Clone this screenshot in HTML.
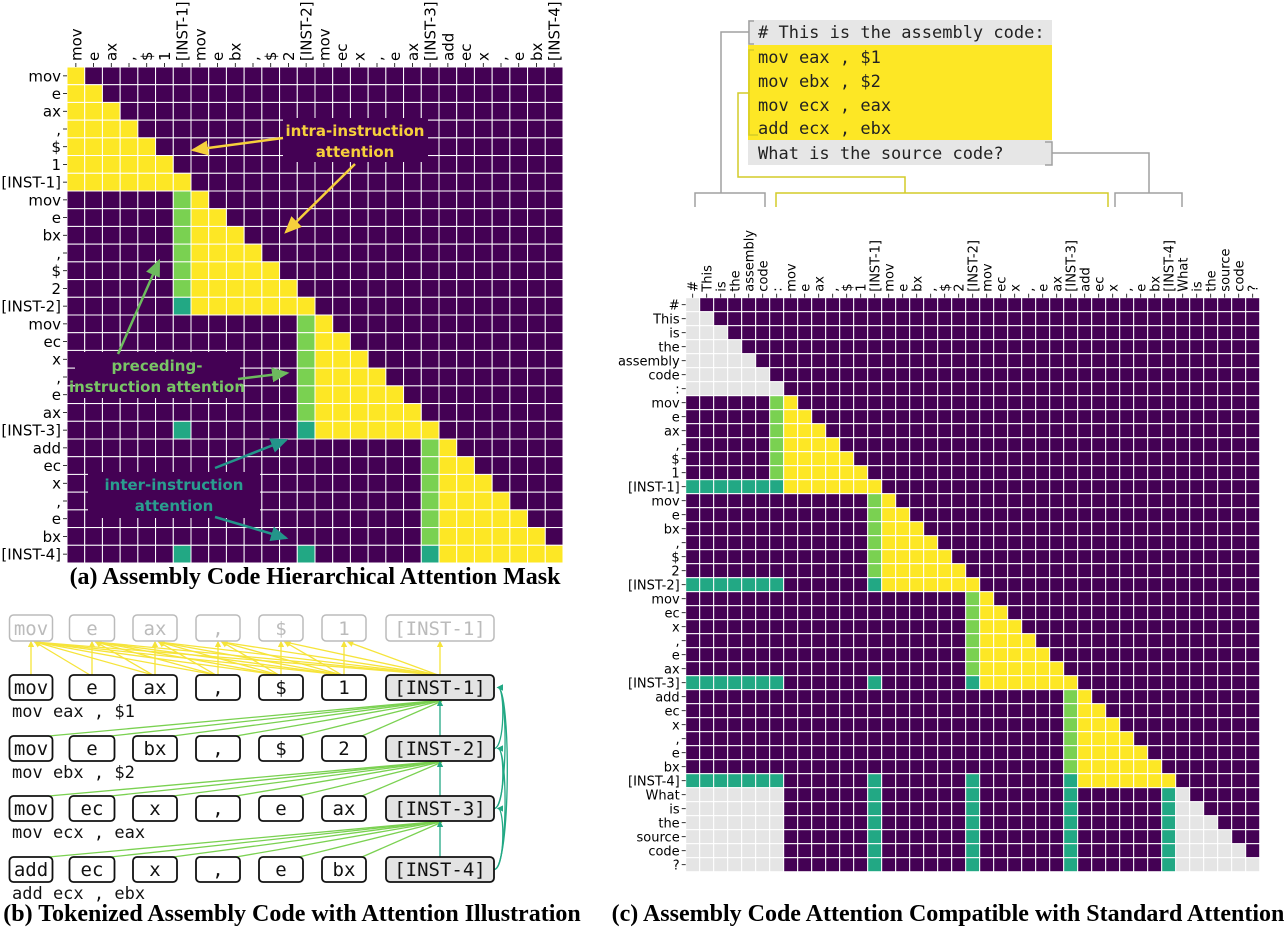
<!DOCTYPE html>
<html><head><meta charset="utf-8"><style>
html,body{margin:0;padding:0;background:#fff;}
svg{display:block;}
</style></head><body>
<svg id="fig" width="1286" height="936" viewBox="0 0 1286 936" xmlns="http://www.w3.org/2000/svg">
<defs>
<marker id="ay" markerWidth="8" markerHeight="8" refX="6" refY="3" orient="auto"><path d="M0,0 L7,3 L0,6 z" fill="#f6cf3c"/></marker>
<marker id="ag" markerWidth="8" markerHeight="8" refX="6" refY="3" orient="auto"><path d="M0,0 L7,3 L0,6 z" fill="#6dbb5e"/></marker>
<marker id="at" markerWidth="8" markerHeight="8" refX="6" refY="3" orient="auto"><path d="M0,0 L7,3 L0,6 z" fill="#23958a"/></marker>
<marker id="sy" markerWidth="6" markerHeight="6" refX="4" refY="2.5" orient="auto"><path d="M0,0 L5,2.5 L0,5 z" fill="#f6e43a"/></marker>
<marker id="st" markerWidth="6" markerHeight="6" refX="4" refY="2.5" orient="auto"><path d="M0,0 L5,2.5 L0,5 z" fill="#22a884"/></marker>
</defs>
<g id="pa"></g>
<g id="pc"></g>
<g id="pb"></g>

<g>
<rect x="283" y="118" width="145" height="44" fill="#440154"/>
<text x="355" y="136" text-anchor="middle" font-family="DejaVu Sans, sans-serif" font-weight="bold" font-size="15" fill="#f6cf3c">intra-instruction</text>
<text x="355" y="157" text-anchor="middle" font-family="DejaVu Sans, sans-serif" font-weight="bold" font-size="15" fill="#f6cf3c">attention</text>
<line x1="283" y1="138" x2="193" y2="150" stroke="#f6cf3c" stroke-width="2.5" marker-end="url(#ay)"/>
<line x1="355" y1="164" x2="286" y2="232" stroke="#f6cf3c" stroke-width="2.5" marker-end="url(#ay)"/>
</g>
<g>
<rect x="75" y="352" width="165" height="46" fill="#440154"/>
<text x="157" y="371" text-anchor="middle" font-family="DejaVu Sans, sans-serif" font-weight="bold" font-size="15" fill="#79c566">preceding-</text>
<text x="157" y="392" text-anchor="middle" font-family="DejaVu Sans, sans-serif" font-weight="bold" font-size="15" fill="#79c566">instruction attention</text>
<line x1="118" y1="354" x2="159" y2="261" stroke="#6dbb5e" stroke-width="2.5" marker-end="url(#ag)"/>
<line x1="238" y1="379" x2="287" y2="373" stroke="#6dbb5e" stroke-width="2.5" marker-end="url(#ag)"/>
</g>
<g>
<rect x="88" y="472" width="172" height="46" fill="#440154"/>
<text x="174" y="490" text-anchor="middle" font-family="DejaVu Sans, sans-serif" font-weight="bold" font-size="15" fill="#2a9d8f">inter-instruction</text>
<text x="174" y="511" text-anchor="middle" font-family="DejaVu Sans, sans-serif" font-weight="bold" font-size="15" fill="#2a9d8f">attention</text>
<line x1="215" y1="468" x2="286" y2="440" stroke="#23958a" stroke-width="2.5" marker-end="url(#at)"/>
<line x1="215" y1="517" x2="286" y2="538" stroke="#23958a" stroke-width="2.5" marker-end="url(#at)"/>
</g>

<g font-family="DejaVu Sans Mono, Liberation Mono, monospace" font-size="17" fill="#222">
<rect x="748" y="20" width="304" height="25" fill="#e6e6e6"/>
<rect x="748" y="45" width="304" height="95" fill="#fde725"/>
<rect x="748" y="140" width="304" height="25" fill="#e6e6e6"/>
<text x="758" y="38"># This is the assembly code:</text>
<text x="758" y="63">mov eax , $1</text>
<text x="758" y="87">mov ebx , $2</text>
<text x="758" y="111">mov ecx , eax</text>
<text x="758" y="134">add ecx , ebx</text>
<text x="758" y="159">What is the source code?</text>
</g>
<g fill="none" stroke-width="1.5">
<path d="M754,21 H749 V44 H754" stroke="#a0a0a0"/>
<path d="M749,32 H721 V193" stroke="#a0a0a0"/>
<path d="M695,207 V193 H765 V207" stroke="#a0a0a0"/>
<path d="M754,50 H749 V135 H758" stroke="#d4cc28"/>
<path d="M749,93 H738 V177 H905 V193" stroke="#d4cc28"/>
<path d="M776,207 V193 H1108 V207" stroke="#d4cc28"/>
<path d="M1045,142 H1052 V165 H1045" stroke="#a0a0a0"/>
<path d="M1052,153 H1149 V193" stroke="#a0a0a0"/>
<path d="M1115,207 V193 H1182 V207" stroke="#a0a0a0"/>
</g>

<g font-family="Liberation Serif, serif" font-weight="bold" font-size="24" fill="#000">
<text x="315" y="584" text-anchor="middle">(a) Assembly Code Hierarchical Attention Mask</text>
<text x="292" y="921" text-anchor="middle">(b) Tokenized Assembly Code with Attention Illustration</text>
<text x="948" y="921" text-anchor="middle">(c) Assembly Code Attention Compatible with Standard Attention</text>
</g>
</svg>
<script>
const codeTokens = ["mov","e","ax",",","$","1","[INST-1]","mov","e","bx",",","$","2","[INST-2]","mov","ec","x",",","e","ax","[INST-3]","add","ec","x",",","e","bx","[INST-4]"];
const prefixTokens = ["#","This","is","the","assembly","code",":"];
const suffixTokens = ["What","is","the","source","code","?"];
const instLen = 7;
const codeLines = ["mov eax , $1","mov ebx , $2","mov ecx , eax","add ecx , ebx"];
const ghostTokens = ["mov","e","ax",",","$","1","[INST-1]"];

const C = {P:"#440154",Y:"#fde725",G:"#7ad151",T:"#22a884",L:"#e5e5e5"};
const NS = "http://www.w3.org/2000/svg";
function mk(tag, attrs, parent){const e=document.createElementNS(NS,tag);for(const k in attrs)e.setAttribute(k,attrs[k]);parent.appendChild(e);return e;}

function codeCell(r,c){
  const br=Math.floor(r/instLen), bc=Math.floor(c/instLen);
  const rInst=(r%instLen)===instLen-1, cInst=(c%instLen)===instLen-1;
  if(br===bc && c<=r) return "Y";
  if(cInst && bc<br){ if(rInst) return "T"; if(bc===br-1) return "G"; }
  return "P";
}
function fullCell(r,c){
  const np=prefixTokens.length, nc=codeTokens.length;
  const zone=i=> i<np?0:(i<np+nc?1:2);
  const zr=zone(r), zc=zone(c);
  if(zr===0) return (zc===0 && c<=r)?"L":"P";
  if(zr===1){
    const rr=r-np;
    if(zc===0){
      if((rr%instLen)===instLen-1) return "T";
      if(rr<instLen && c===np-1) return "G";
      return "P";
    }
    if(zc===1) return codeCell(rr,c-np);
    return "P";
  }
  if(zc===0) return "L";
  if(zc===1) return ((c-np)%instLen)===instLen-1?"T":"P";
  return c<=r?"L":"P";
}

function drawMatrix(g, tokens, cellFn, x0, y0, s, fs, prefix){
  const n=tokens.length;
  for(let r=0;r<n;r++)for(let c=0;c<n;c++){
    const rc=mk("rect",{x:x0+c*s,y:y0+r*s,width:s,height:s,fill:C[cellFn(r,c)],stroke:"#fff","stroke-width":1},g);
    
    
  }
  for(let i=0;i<n;i++){
    const cx=x0+(i+0.5)*s, cy=y0+(i+0.5)*s;
    mk("line",{x1:cx,y1:y0-4,x2:cx,y2:y0,stroke:"#000","stroke-width":0.8},g);
    mk("line",{x1:x0-4,y1:cy,x2:x0,y2:cy,stroke:"#000","stroke-width":0.8},g);
    const t=mk("text",{x:0,y:0,transform:`translate(${cx+fs*0.36},${y0-6}) rotate(-90)`,"font-family":"DejaVu Sans, sans-serif","font-size":fs,fill:"#000"},g);
    t.textContent=tokens[i];
    
    
    const t2=mk("text",{x:x0-6,y:cy+fs*0.36,"text-anchor":"end","font-family":"DejaVu Sans, sans-serif","font-size":fs,fill:"#000"},g);
    t2.textContent=tokens[i];
    
    
  }
}
drawMatrix(document.getElementById("pa"), codeTokens, codeCell, 67, 67, 496/28, 15, "mask-a");
const allTokens=prefixTokens.concat(codeTokens,suffixTokens);
drawMatrix(document.getElementById("pc"), allTokens, fullCell, 685.7, 297.7, 14.0, 13, "mask-c");

const pb=document.getElementById("pb");
const bxC=[31,92,155,218,281,344,440], bxW=[43,45,44,44,44,44,108];
const rowTop=[675,736,796,857], bh=25, ghostTop=615;
for(let i=0;i<instLen;i++)for(let j=0;j<=i;j++){
  const l=mk("line",{x1:bxC[i]+(i===j?0:-2),y1:rowTop[0],x2:bxC[j]+(i===j?0:4),y2:ghostTop+27,stroke:"#f6e43a","stroke-width":1.3,"marker-end":"url(#sy)"},pb);
  
  
}
for(let k=1;k<4;k++)for(let i=0;i<instLen-1;i++){
  const l=mk("line",{x1:bxC[i]+bxW[i]/2-4,y1:rowTop[k],x2:bxC[6]-8+i*2,y2:rowTop[k-1]+bh+1,stroke:"#7ad151","stroke-width":1.3},pb);
  
  
}
for(let k=1;k<4;k++){
  const l=mk("line",{x1:bxC[6],y1:rowTop[k],x2:bxC[6],y2:rowTop[k-1]+bh+1,stroke:"#22a884","stroke-width":1.3,"marker-end":"url(#st)"},pb);
  
  
  for(let j=0;j<k;j++){
    const y1=rowTop[k]+bh/2, y2=rowTop[j]+bh/2, xr=bxC[6]+bxW[6]/2, bend=8+(k-j)*3;
    const p=mk("path",{d:`M${xr},${y1} C${xr+bend},${y1} ${xr+bend},${y2} ${xr+4},${y2}`,fill:"none",stroke:"#22a884","stroke-width":1.3,"marker-end":"url(#st)"},pb);
    
    
  }
}
for(let i=0;i<instLen;i++){
  const r=mk("rect",{x:bxC[i]-bxW[i]/2,y:ghostTop,width:bxW[i],height:26,rx:4,fill:"#fff",stroke:"#bbb","stroke-width":1.5},pb);
  
  
  const t=mk("text",{x:bxC[i],y:ghostTop+20,"text-anchor":"middle","font-family":"DejaVu Sans Mono, monospace","font-size":19,fill:"#bbb"},pb);
  t.textContent=ghostTokens[i];
  
  
}
for(let k=0;k<4;k++){
  for(let i=0;i<instLen;i++){
    const inst=i===instLen-1;
    const r=mk("rect",{x:bxC[i]-bxW[i]/2,y:rowTop[k],width:bxW[i],height:bh,rx:4,fill:inst?"#e3e3e3":"#fff",stroke:"#111","stroke-width":1.8},pb);
    
    
    const t=mk("text",{x:bxC[i],y:rowTop[k]+19,"text-anchor":"middle","font-family":"DejaVu Sans Mono, monospace","font-size":19,fill:"#111"},pb);
    t.textContent=codeTokens[k*instLen+i];
    
    
  }
  const ct=mk("text",{x:12,y:rowTop[k]+bh+17,"font-family":"DejaVu Sans Mono, monospace","font-size":17,fill:"#111"},pb);
  ct.textContent=codeLines[k];
  
  
}
</script>
</body></html>
